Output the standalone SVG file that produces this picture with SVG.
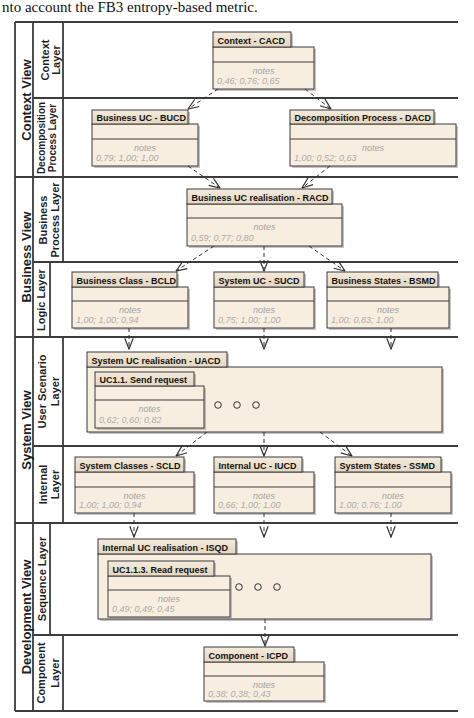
<svg xmlns="http://www.w3.org/2000/svg" width="474" height="718" viewBox="0 0 474 718">
<defs>
<linearGradient id="tabG" x1="0" y1="0" x2="0" y2="1">
<stop offset="0" stop-color="#f4ebdd"/>
<stop offset="1" stop-color="#e5d6bf"/>
</linearGradient>
<marker id="arr" markerUnits="userSpaceOnUse" markerWidth="12" markerHeight="10" viewBox="0 0 10 8" refX="9.5" refY="4" orient="auto">
<path d="M0.5,0.5 L9.5,4 L0.5,7.5" fill="none" stroke="#333" stroke-width="1"/>
</marker>
<style>
.fr{stroke:#3c3c3c;stroke-width:1.8;fill:none}
.view{font-family:"Liberation Sans",Arial,sans-serif;font-weight:bold;font-size:13px;fill:#1e1e1e;text-anchor:middle}
.layer{font-family:"Liberation Sans",Arial,sans-serif;font-weight:bold;font-size:11px;fill:#1e1e1e;text-anchor:middle}
.sh{fill:#8c8c8c;opacity:.5}
.tab{fill:url(#tabG);stroke:#3a3a3a;stroke-width:1}
.body{fill:#f8eee0;stroke:#3a3a3a;stroke-width:1}
.sep{stroke:#3a3a3a;stroke-width:1}
.title{font-family:"Liberation Sans",Arial,sans-serif;font-weight:bold;font-size:9px;fill:#111}
.notes{font-family:"Liberation Sans",Arial,sans-serif;font-style:italic;font-size:9px;fill:#a3a3a3;text-anchor:middle}
.vals{font-family:"Liberation Sans",Arial,sans-serif;font-style:italic;font-size:9px;fill:#ababab}
.conn{stroke:#333;stroke-width:1;stroke-dasharray:4 3;fill:none;marker-end:url(#arr)}
.dot{fill:none;stroke:#333;stroke-width:1}
</style>
</defs>
<rect width="474" height="718" fill="#fff"/>
<text x="2" y="12" font-family="Liberation Serif,serif" font-size="15" fill="#111">nto account the FB3 entropy-based metric.</text>

<g id="frame">
<path class="fr" d="M15,22 H458 M15,22 V711 M15,711 H458 M33,22 V711 M63,22 V262 M50,262 V337 M63,337 V523 M50,523 V635 M63,635 V711 M33,98 H458 M15,177 H458 M33,262 H458 M15,337 H458 M33,446 H458 M15,523 H458 M33,635 H458"/>
</g>

<g id="view-labels">
<text class="view" transform="translate(30.5,100) rotate(-90)">Context View</text>
<text class="view" transform="translate(30.5,257) rotate(-90)">Business View</text>
<text class="view" transform="translate(30.5,430) rotate(-90)">System View</text>
<text class="view" transform="translate(30.5,617) rotate(-90)">Development View</text>
</g>

<g id="layer-labels">
<text class="layer" transform="translate(0,60) rotate(-90)"><tspan x="0" y="49">Context</tspan><tspan x="0" y="60">Layer</tspan></text>
<text class="layer" style="font-size:10px" transform="translate(0,138) rotate(-90)"><tspan x="0" y="44.5">Decomposition</tspan><tspan x="0" y="56">Process Layer</tspan></text>
<text class="layer" transform="translate(0,220) rotate(-90)"><tspan x="0" y="47">Business</tspan><tspan x="0" y="59">Process Layer</tspan></text>
<text class="layer" transform="translate(0,300) rotate(-90)"><tspan x="0" y="45">Logic Layer</tspan></text>
<text class="layer" transform="translate(0,391.5) rotate(-90)"><tspan x="0" y="45.5">User Scenario</tspan><tspan x="0" y="58.5">Layer</tspan></text>
<text class="layer" transform="translate(0,484.5) rotate(-90)"><tspan x="0" y="47">Internal</tspan><tspan x="0" y="58.5">Layer</tspan></text>
<text class="layer" transform="translate(0,579) rotate(-90)"><tspan x="0" y="45.5">Sequence Layer</tspan></text>
<text class="layer" transform="translate(0,673) rotate(-90)"><tspan x="0" y="45">Component</tspan><tspan x="0" y="58.5">Layer</tspan></text>
</g>

<g id="cacd">
<rect class="sh" x="215" y="34" width="78" height="15"/><rect class="sh" x="215" y="49" width="101" height="42"/>
<rect class="body" x="213" y="47" width="101" height="42"/><rect class="tab" x="213" y="32" width="78" height="15"/>
<line class="sep" x1="213" y1="62" x2="314" y2="62"/>
<text class="title" x="217.5" y="43.5">Context - CACD</text>
<text class="notes" x="263.5" y="73.5">notes</text>
<text class="vals" x="217" y="83.5">0,46; 0,76; 0,65</text>
</g>

<g id="bucd">
<rect class="sh" x="94" y="112" width="96" height="14"/><rect class="sh" x="94" y="126" width="106" height="42"/>
<rect class="body" x="92" y="124" width="106" height="42"/><rect class="tab" x="92" y="110" width="96" height="14"/>
<line class="sep" x1="92" y1="139" x2="198" y2="139"/>
<text class="title" x="96.5" y="120.5">Business UC - BUCD</text>
<text class="notes" x="145" y="150.5">notes</text>
<text class="vals" x="96" y="160.5">0,79; 1,00; 1,00</text>
</g>

<g id="dacd">
<rect class="sh" x="292" y="112" width="144" height="14"/><rect class="sh" x="292" y="126" width="166" height="42"/>
<rect class="body" x="290" y="124" width="166" height="42"/><rect class="tab" x="290" y="110" width="144" height="14"/>
<line class="sep" x1="290" y1="139" x2="456" y2="139"/>
<text class="title" x="294.5" y="120.5">Decomposition Process - DACD</text>
<text class="notes" x="373" y="150.5">notes</text>
<text class="vals" x="294" y="160.5">1,00; 0,52; 0,63</text>
</g>

<g id="racd">
<rect class="sh" x="189" y="191" width="145" height="15"/><rect class="sh" x="189" y="206" width="155" height="42"/>
<rect class="body" x="187" y="204" width="155" height="42"/><rect class="tab" x="187" y="189" width="145" height="15"/>
<line class="sep" x1="187" y1="218" x2="342" y2="218"/>
<text class="title" x="191.5" y="200.5">Business UC realisation - RACD</text>
<text class="notes" x="264.5" y="229.5">notes</text>
<text class="vals" x="191" y="240.5">0,59; 0,77; 0,80</text>
</g>

<g id="bcld">
<rect class="sh" x="74" y="274" width="105" height="15"/><rect class="sh" x="74" y="289" width="116" height="41"/>
<rect class="body" x="72" y="287" width="116" height="41"/><rect class="tab" x="72" y="272" width="105" height="15"/>
<line class="sep" x1="72" y1="301" x2="188" y2="301"/>
<text class="title" x="76.5" y="283.5">Business Class - BCLD</text>
<text class="notes" x="130" y="312.5">notes</text>
<text class="vals" x="76" y="322.5">1,00; 1,00; 0,94</text>
</g>

<g id="sucd">
<rect class="sh" x="216" y="274" width="90" height="15"/><rect class="sh" x="216" y="289" width="100" height="41"/>
<rect class="body" x="214" y="287" width="100" height="41"/><rect class="tab" x="214" y="272" width="90" height="15"/>
<line class="sep" x1="214" y1="301" x2="314" y2="301"/>
<text class="title" x="218.5" y="283.5">System UC - SUCD</text>
<text class="notes" x="264" y="312.5">notes</text>
<text class="vals" x="218" y="322.5">0,75; 1,00; 1,00</text>
</g>

<g id="bsmd">
<rect class="sh" x="329" y="274" width="111" height="15"/><rect class="sh" x="329" y="289" width="122" height="41"/>
<rect class="body" x="327" y="287" width="122" height="41"/><rect class="tab" x="327" y="272" width="111" height="15"/>
<line class="sep" x1="327" y1="301" x2="449" y2="301"/>
<text class="title" x="331.5" y="283.5">Business States - BSMD</text>
<text class="notes" x="388" y="312.5">notes</text>
<text class="vals" x="331" y="322.5">1,00; 0,83; 1,00</text>
</g>

<g id="uacd">
<rect class="sh" x="89" y="354" width="140" height="15"/><rect class="sh" x="89" y="369" width="355" height="65"/>
<rect class="body" x="87" y="367" width="355" height="65"/><rect class="tab" x="87" y="352" width="140" height="15"/>
<text class="title" x="91.5" y="363.5">System UC realisation - UACD</text>
<circle class="dot" cx="218" cy="405" r="3.3"/><circle class="dot" cx="237" cy="405" r="3.3"/><circle class="dot" cx="256" cy="405" r="3.3"/>
</g>

<g id="uc11">
<rect class="sh" x="97" y="374" width="99" height="14"/><rect class="sh" x="97" y="388" width="109" height="42"/>
<rect class="body" x="95" y="386" width="109" height="42"/><rect class="tab" x="95" y="372" width="99" height="14"/>
<line class="sep" x1="95" y1="400" x2="204" y2="400"/>
<text class="title" x="99.5" y="382.5">UC1.1. Send request</text>
<text class="notes" x="149.5" y="411.5">notes</text>
<text class="vals" x="99" y="422.5">0,62; 0,60; 0,82</text>
</g>

<g id="scld">
<rect class="sh" x="77" y="459" width="109" height="15"/><rect class="sh" x="77" y="474" width="119" height="41"/>
<rect class="body" x="75" y="472" width="119" height="41"/><rect class="tab" x="75" y="457" width="109" height="15"/>
<line class="sep" x1="75" y1="487" x2="194" y2="487"/>
<text class="title" x="79.5" y="468.5">System Classes - SCLD</text>
<text class="notes" x="134.5" y="498.5">notes</text>
<text class="vals" x="79" y="507.5">1,00; 1,00; 0,94</text>
</g>

<g id="iucd">
<rect class="sh" x="216" y="459" width="88" height="15"/><rect class="sh" x="216" y="474" width="100" height="41"/>
<rect class="body" x="214" y="472" width="100" height="41"/><rect class="tab" x="214" y="457" width="88" height="15"/>
<line class="sep" x1="214" y1="487" x2="314" y2="487"/>
<text class="title" x="218.5" y="468.5">Internal UC - IUCD</text>
<text class="notes" x="264" y="498.5">notes</text>
<text class="vals" x="218" y="507.5">0,66; 1,00; 1,00</text>
</g>

<g id="ssmd">
<rect class="sh" x="337" y="459" width="106" height="15"/><rect class="sh" x="337" y="474" width="116" height="41"/>
<rect class="body" x="335" y="472" width="116" height="41"/><rect class="tab" x="335" y="457" width="106" height="15"/>
<line class="sep" x1="335" y1="487" x2="451" y2="487"/>
<text class="title" x="339.5" y="468.5">System States - SSMD</text>
<text class="notes" x="393" y="498.5">notes</text>
<text class="vals" x="339" y="507.5">1.00; 0.76; 1.00</text>
</g>

<g id="isqd">
<rect class="sh" x="100" y="541" width="138" height="15"/><rect class="sh" x="100" y="556" width="333" height="65"/>
<rect class="body" x="98" y="554" width="333" height="65"/><rect class="tab" x="98" y="539" width="138" height="15"/>
<text class="title" x="102.5" y="550.5">Internal UC realisation - ISQD</text>
<circle class="dot" cx="239" cy="587" r="3.3"/><circle class="dot" cx="258" cy="587" r="3.3"/><circle class="dot" cx="277" cy="587" r="3.3"/>
</g>

<g id="uc113">
<rect class="sh" x="110" y="563" width="106" height="15"/><rect class="sh" x="110" y="578" width="122" height="41"/>
<rect class="body" x="108" y="576" width="122" height="41"/><rect class="tab" x="108" y="561" width="106" height="15"/>
<line class="sep" x1="108" y1="590" x2="230" y2="590"/>
<text class="title" x="112.5" y="572.5">UC1.1.3. Read request</text>
<text class="notes" x="169" y="601.5">notes</text>
<text class="vals" x="112" y="611.5">0,49; 0,49; 0,45</text>
</g>

<g id="icpd">
<rect class="sh" x="206" y="649" width="90" height="15"/><rect class="sh" x="206" y="664" width="120" height="39"/>
<rect class="body" x="204" y="662" width="120" height="39"/><rect class="tab" x="204" y="647" width="90" height="15"/>
<line class="sep" x1="204" y1="676" x2="324" y2="676"/>
<text class="title" x="208.5" y="658.5">Component - ICPD</text>
<text class="notes" x="264" y="687.5">notes</text>
<text class="vals" x="208" y="696.5">0,38; 0,38; 0,43</text>
</g>

<g id="connectors">
<path class="conn" d="M218,89 L188,109"/>
<path class="conn" d="M305,89 L331,109"/>
<path class="conn" d="M188,166 L220,188"/>
<path class="conn" d="M330,166 L302,188"/>
<path class="conn" d="M214,246 L176,271"/>
<path class="conn" d="M264,246 L264,271"/>
<path class="conn" d="M309,246 L345,271"/>
<path class="conn" d="M129,328 L129,349"/>
<path class="conn" d="M264,328 L264,349"/>
<path class="conn" d="M391,328 L391,349"/>
<path class="conn" d="M207,432 L176,456"/>
<path class="conn" d="M264,432 L264,456"/>
<path class="conn" d="M320,432 L352,456"/>
<path class="conn" d="M134,513 L134,537"/>
<path class="conn" d="M264,513 L264,537"/>
<path class="conn" d="M391,513 L391,537"/>
<path class="conn" d="M265,619 L265,646"/>
</g>
</svg>
